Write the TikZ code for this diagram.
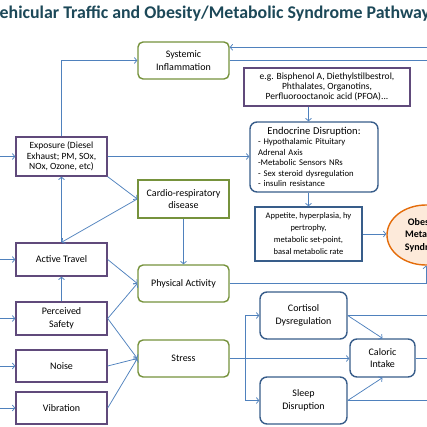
\documentclass[tikz,border=0pt]{standalone}
\usepackage{fontspec}
\setmainfont{Carlito}
\usepackage{tikz}
\usetikzlibrary{shapes.geometric, arrows.meta}
\usetikzlibrary{positioning}
\definecolor{lineblue}{RGB}{79,129,189}
\definecolor{factorpurple}{RGB}{96,74,123}
\definecolor{olivegreen}{RGB}{118,146,60}
\definecolor{boxblue}{RGB}{56,93,138}
\definecolor{obesorange}{RGB}{228,108,10}
\definecolor{obesfill}{RGB}{253,234,218}
\definecolor{titleteal}{RGB}{28,72,88}
\tikzstyle{factor} = [rectangle, minimum width=91pt, minimum height=33pt, inner sep=1pt, text centered, align=center, draw=factorpurple, line width=1.4pt, fill=white, font=\fontsize{10}{12.5}\selectfont]
\tikzstyle{health} = [rectangle, rounded corners=5pt, minimum width=91pt, minimum height=37pt, inner sep=1pt, text centered, align=center, draw=olivegreen, line width=1.4pt, fill=white, font=\fontsize{10}{12.5}\selectfont]
\tikzstyle{endobox} = [rectangle, rounded corners=7pt, inner sep=1pt, text centered, align=center, draw=boxblue, line width=1.4pt, fill=white, font=\fontsize{10}{12.5}\selectfont]
\tikzstyle{arrow} = [draw=lineblue, line width=0.75pt, -{Straight Barb[length=2.5pt,width=6pt]}]
\tikzstyle{link} = [draw=lineblue, line width=0.75pt]

\begin{document}
\begin{tikzpicture}[x=1pt,y=-1pt]
 \useasboundingbox (0,0) rectangle (427,427);
 \clip (0,0) rectangle (427,427);
 \coordinate (leftedge) at (0,0);
 \coordinate (rightedge) at (427,0);
 \node[anchor=base west, inner sep=0pt, text=titleteal,
       font=\fontsize{17.85}{20}\selectfont\bfseries] (title) at (-0.5,18.5)
              {\llap{V}ehicular Traffic and Obesity/Metabolic Syndrome Pathway\rlap{s}};
% middle column
 \node[health] (sysinf) at (183.5,60.5) {Systemic\\Inflammation};
 \node[health, rounded corners=0pt, minimum height=38pt] (cardio) at (sysinf) [yshift=-138.5pt]
              {Cardio-respiratory\\disease};
 \node[health] (phys) at (183.5,283.5) {Physical Activity};
 \node[health] (stress) at (phys) [yshift=-75pt] {Stress};
% left column
 \node[factor, minimum height=39pt, font=\fontsize{9.5}{10.5}\selectfont] (expo) at (61.5,156.5)
              {Exposure (Diesel\\Exhaust; PM, SOx,\\NOx, Ozone, etc)};
 \node[factor] (active) at (expo) [yshift=-103pt] {Active Travel};
 \node[factor] (safety) at (active) [yshift=-59pt] {Perceived\\Safety};
 \node[factor, minimum height=32pt] (noise) at (61.5,366) {Noise};
 \node[factor, minimum height=32pt] (vib) at (noise) [yshift=-42pt] {Vibration};
% right column
 \node[factor, minimum width=166pt, minimum height=38pt, font=\fontsize{9.5}{10}\selectfont] (chem) at (327,87)
              {e.g. Bisphenol A, Diethylstilbestrol,\\Phthalates, Organotins,\\Perfluorooctanoic acid (PFOA)...};
 \node[endobox, minimum width=128pt, minimum height=70pt, text width=112pt, align=left,
       font=\fontsize{8.7}{10.5}\selectfont] (endo) at (314,157)
              {\centerline{\fontsize{10.5}{12}\selectfont Endocrine Disruption:}
               - Hypothalamic Pituitary\\Adrenal Axis\\-Metabolic Sensors NRs\\- Sex steroid dysregulation\\- insulin resistance};
 \node[factor, draw=boxblue, minimum width=107pt, minimum height=54pt, font=\fontsize{8.5}{12}\selectfont] (appet) at (308.5,234)
              {Appetite, hyperplasia, hy\\pertrophy,\\metabolic set-point,\\basal metabolic rate};
 \node[ellipse, draw=obesorange, fill=obesfill, line width=1.4pt, minimum width=78pt, minimum height=60pt,
       align=center, font=\fontsize{10}{12.5}\selectfont\bfseries] (obes) at (426,235)
              {Obesity/\\Metabolic\\Syndrome};
 \node[endobox, minimum width=87pt, minimum height=47pt] (cort) at (303.5,315.5) {Cortisol\\Dysregulation};
 \node[endobox, minimum width=65pt, minimum height=38pt] (calor) at (382.5,358) {Caloric\\Intake};
 \node[endobox, minimum width=87pt, minimum height=47pt] (sleep) at (cort) [yshift=-85pt] {Sleep\\Disruption};
% arrows from the left edge
 \draw[arrow] (leftedge |- expo.west) -- (expo.west);
 \draw[arrow] (leftedge |- active.west) -- (active.west);
 \draw[arrow] (leftedge |- safety.west) -- (safety.west);
 \draw[arrow] (leftedge |- noise.west) -- (noise.west);
 \draw[arrow] (leftedge |- vib.west) -- (vib.west);
% exposure
 \draw[arrow] (expo.north) |- (sysinf.west);
 \draw[arrow] (expo.east) -- (expo.east -| endo.west);
 \draw[arrow] (expo.south east) -- (cardio.west);
 \draw[arrow] (cardio.west) -- (active.north);
 \draw[arrow] (active.north) -- (expo.south);
 \draw[arrow] (safety.north) -- (active.south);
 \draw[arrow] (cardio.south) -- (phys.north);
% to physical activity and stress
 \draw[arrow] (active.east) -- (phys.west);
 \draw[arrow] (safety.east) -- (phys.west);
 \draw[arrow] (safety.east) -- (stress.west);
 \draw[arrow] (noise.east) -- (stress.west);
 \draw[arrow] (vib.east) -- (stress.west);
 \draw[link] (phys.east) -- (rightedge |- phys.east);
% stress pathway
 \coordinate (split) at ([xshift=16pt]stress.east);
 \draw[arrow] (stress.east) -- (stress.east -| calor.west);
 \draw[arrow] (split) |- (cort.west);
 \draw[arrow] (split) |- (sleep.west);
 \draw[arrow] (cort.east) -- (calor.north);
 \draw[arrow] (sleep.east) -- (calor.south);
 \draw[link] (cort.east) -- (rightedge |- cort.east);
 \draw[link] (calor.east) -- (rightedge |- calor.east);
 \draw[link] (sleep.east) -- (rightedge |- sleep.east);
% endocrine pathway
 \draw[arrow] (chem.south -| appet.north) -- (endo.north -| appet.north);
 \draw[arrow] (endo.south -| appet.north) -- (appet.north);
 \draw[arrow] (appet.east) -- (appet.east -| obes.west);
 \draw[arrow] (obes.south |- phys.east) -- (obes.south);
% top lines
 \coordinate (sysfeed) at ([yshift=-6pt]sysinf.north east);
 \draw[arrow] (rightedge |- sysfeed) -- (sysfeed);
 \draw[link] (sysinf.east) -- (rightedge |- sysinf.east);
\end{tikzpicture}
\end{document}
